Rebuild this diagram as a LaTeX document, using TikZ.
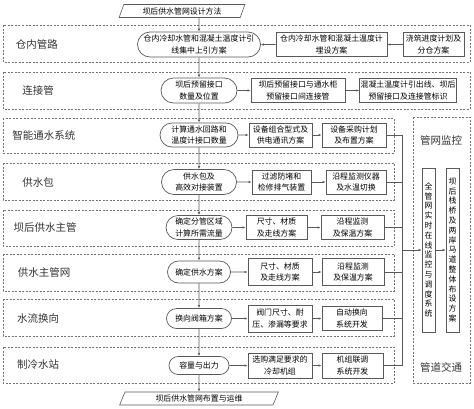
\documentclass[tikz,border=0pt]{standalone}
\usepackage{fontspec}
\setmainfont{Noto Sans CJK SC}
\usetikzlibrary{arrows.meta,positioning,shapes.misc,shapes.geometric}

\begin{document}
\begin{tikzpicture}[
    x=1pt, y=-1pt,
    font=\fontsize{7.9}{11.8}\selectfont,
    lane/.style={draw=black!55, dash pattern=on 2pt off 1.5pt, line width=0.6pt},
    tag/.style={font=\fontsize{10.5}{12}\selectfont, text=black!80},
    term/.style={draw=black!65, line width=0.7pt, rounded rectangle, align=center, inner xsep=0pt, inner ysep=1pt, minimum height=24pt},
    proc/.style={draw=black!65, line width=0.7pt, align=center, inner xsep=1pt, inner ysep=1pt, minimum height=24pt},
    io/.style={draw=black!65, line width=0.6pt, trapezium, trapezium left angle=70, trapezium right angle=110, trapezium stretches=true, minimum height=13pt, inner ysep=1pt},
    vbox/.style={draw=black!65, line width=0.7pt, align=center, minimum width=13pt, minimum height=164pt, inner sep=1pt, font=\fontsize{7.9}{9.8}\selectfont},
    arrow/.style={-{Latex[length=3pt,width=2.4pt]}, draw=black!65, line width=0.6pt},
    link/.style={draw=black!65, line width=0.6pt}
  ]
    \useasboundingbox (0,0) rectangle (474,408);

    % swim lanes
    \draw[lane] (3,25) rectangle (470,62);
    \draw[lane] (3,72) rectangle (470,109);
    \foreach \top/\bot in {118/153, 163/200, 210/246, 254/291, 299/336, 347/383}
      \draw[lane] (3,\top) rectangle (394,\bot);
    \draw[lane] (413,117) rectangle (470,383);

    % lane titles
    \node[tag] (t1) at (37,44) {仓内管路};
    \node[tag] (t2) at (38,90) {连接管};
    \node[tag] (t3) at (44,135) {智能通水系统};
    \node[tag] (t4) at (38,182) {供水包};
    \node[tag] (t5) at (45,227) {坝后供水主管};
    \node[tag] (t6) at (44,272) {供水主管网};
    \node[tag] (t7) at (38,318) {水流换向};
    \node[tag] (t8) at (38,365) {制冷水站};
    \node[tag] (tm) at (441,140) {管网监控};
    \node[tag] (tr) at (441,367) {管道交通};

    % start and end
    \node[io, minimum width=126pt] (start) at (182,11) {坝后供水管网设计方法};
    \node[io, minimum width=160pt] (done) at (199,398.5) {坝后供水管网布置与运维};

    % row 1
    \node[term, minimum width=123pt, minimum height=25pt] (s1) at (199,44.5) {仓内冷却水管和混凝土温度计引\\线集中上引方案};
    \node[proc, minimum width=111pt] (b1) at (331.5,44.5) {仓内冷却水管和混凝土温度计\\埋设方案};
    \node[proc, minimum width=61pt] (c1) at (433.5,44.5) {浇筑进度计划及\\分仓方案};
    % row 2
    \node[term, minimum width=76pt, minimum height=25pt] (s2) at (199,90.5) {坝后预留接口\\数量及位置};
    \node[proc, minimum width=94pt] (b2) at (298,90.5) {坝后预留接口与通水柜\\预留接口间连接管};
    \node[proc, minimum width=96pt] (c2) at (408,90.5) {混凝土温度计引出线、坝后\\预留接口及连接管标识};
    % row 3
    \node[term, minimum width=78pt] (s3) at (199,135) {计算通水回路和\\温度计接口数量};
    \node[proc, minimum width=63pt] (b3) at (280.5,135) {设备组合型式及\\供电通讯方案};
    \node[proc, minimum width=64pt] (c3) at (354,135) {设备采购计划\\及布置方案};
    % row 4
    \node[term, minimum width=75pt, minimum height=25pt] (s4) at (199,182) {供水包及\\高效对接装置};
    \node[proc, minimum width=59pt] (b4) at (281.5,182) {过滤防堵和\\检修排气装置};
    \node[proc, minimum width=60pt] (c4) at (356,182) {沿程监测仪器\\及水温切换};
    % row 5
    \node[term, minimum width=66pt] (s5) at (199,227.5) {确定分管区域\\计算所需流量};
    \node[proc, minimum width=61pt] (b5) at (276.5,227.5) {尺寸、材质\\及走线方案};
    \node[proc, minimum width=63pt] (c5) at (352.5,227.5) {沿程监测\\及保温方案};
    % row 6
    \node[term, minimum width=63pt, minimum height=22pt] (s6) at (199,272) {确定供水方案};
    \node[proc, minimum width=64pt, minimum height=27pt] (b6) at (280,272) {尺寸、材质\\及走线方案};
    \node[proc, minimum width=62pt, minimum height=27pt] (c6) at (353,272) {沿程监测\\及保温方案};
    % row 7
    \node[term, minimum width=65pt, minimum height=20pt] (s7) at (199,318.5) {换向阀箱方案};
    \node[proc, minimum width=64pt, minimum height=27pt] (b7) at (280,318.5) {阀门尺寸、耐\\压、渗漏等要求};
    \node[proc, minimum width=60pt] (c7) at (352,318.5) {自动换向\\系统开发};
    % row 8
    \node[term, minimum width=60pt, minimum height=18pt] (s8) at (199,365.5) {容量与出力};
    \node[proc, minimum width=64pt, minimum height=25pt] (b8) at (280,365.5) {选购满足要求的\\冷却机组};
    \node[proc, minimum width=61pt, minimum height=25pt] (c8) at (352.5,365.5) {机组联调\\系统开发};

    % monitoring column
    \node[vbox] (mon) at (428.5,250) {全\\管\\网\\实\\时\\在\\线\\监\\控\\与\\调\\度\\系\\统};
    \node[vbox] (lay) at (452.5,250) {坝\\后\\栈\\桥\\及\\两\\岸\\马\\道\\整\\体\\布\\设\\方\\案};

    % connectors
    \draw[arrow] (c1) -- (b1);
    \draw[arrow] (b1) -- (s1);
    \foreach \i in {2,...,8} {
      \draw[arrow] (s\i) -- (b\i);
      \draw[arrow] (b\i) -- (c\i);
    }
    \draw[arrow] (s1 |- start.south) -- (s1);
    \foreach \i/\j in {1/2, 2/3, 3/4, 4/5, 5/6, 6/7, 7/8}
      \draw[arrow] (s\i) -- (s\j);
    \draw[arrow] (s8) -- (s8 |- done.north);
    \coordinate (bus) at (402,250);
    \foreach \i in {3,...,8}
      \draw[link] (c\i.east) -| (bus);
    \draw[arrow] (bus) -- (mon);
    \draw[arrow] (mon) -- (lay);
  \end{tikzpicture}
\end{document}
